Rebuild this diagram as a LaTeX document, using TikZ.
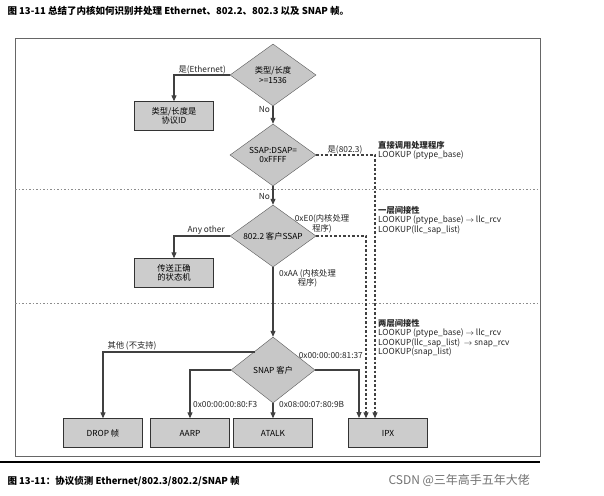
\documentclass[tikz,border=0pt]{standalone}
\usepackage{fontspec}
\setmainfont{Liberation Sans}
\newfontfamily\cjk{Noto Sans CJK SC}
\usetikzlibrary{shapes.geometric,arrows.meta}
\begin{document}
\begin{tikzpicture}[x=1pt,y=-1pt,font=\cjk\fontsize{8.3}{9.5}\selectfont,
  dia/.style={diamond,draw=gray!70!black,fill=black!22,aspect=1.4,inner sep=0pt,minimum width=86,minimum height=62,align=center},
  bx/.style={draw=gray!40!black,fill=black!20,minimum width=79,minimum height=29,align=center},
  ln/.style={draw=black!75,line width=1.1pt,-{Triangle[length=6pt,width=5pt]}},
  dl/.style={draw=black!75,line width=1.1pt,dash pattern=on 2.5pt off 2pt,-{Triangle[length=6pt,width=5pt]}},
  sep/.style={draw=black!45,line width=0.8pt,dash pattern=on 1.5pt off 2pt},
  lbl/.style={inner sep=1pt,align=left,text=black!85}]
\useasboundingbox (0,0) rectangle (604,495);
\fill[white] (0,0) rectangle (604,495);
\node[anchor=west,font=\cjk\bfseries\fontsize{9.5}{11}\selectfont] (title) at (4,11) {图 13-11 总结了内核如何识别并处理 Ethernet、802.2、802.3 以及 SNAP 帧。};
\draw[black!60,line width=0.6pt] (15,38) rectangle (540,456);
\draw[black,line width=1.6pt] (0,462) -- (540,462);
\node[anchor=west,font=\cjk\bfseries\fontsize{9.5}{11}\selectfont] (cap) at (4,481) {图 13-11：协议侦测 Ethernet/802.3/802.2/SNAP 帧};
\node[anchor=west,text=black!55,font=\cjk\fontsize{12}{14}\selectfont] (wm) at (385,480) {CSDN @三年高手五年大佬};
\draw[sep] (15,189) -- (540,189);
\draw[sep] (15,303) -- (540,303);
% nodes
\node[dia] (d1) at (273,75) {类型/长度\\>=1536};
\node[bx] (b1) at (174,116) {类型/长度是\\协议ID};
\node[dia] (d2) at (273,155) {SSAP:DSAP=\\0xFFFF};
\node[dia] (d3) at (273,236) {802.2 客户SSAP};
\node[bx] (b2) at (174,273) {传送正确\\的状态机};
\node[dia,minimum width=84,minimum height=66] (d4) at (273,370) {SNAP 客户};
\node[bx] (drop) at (103,433) {DROP 帧};
\node[bx] (aarp) at (190,433) {AARP};
\node[bx] (atalk) at (273,433) {ATALK};
\node[bx] (ipx) at (388,433) {IPX};
% connectors
\draw[ln] (d1.west) -| (b1.north);
\node[lbl,anchor=south east] at (227,75) {是(Ethernet)};
\draw[ln] (d1.south) -- (d2.north);
\node[lbl,anchor=east] at (271,110) {No};
\draw[ln] (d2.south) -- (d3.north);
\node[lbl,anchor=east] at (271,197) {No};
\draw[ln] (d3.west) -| (b2.north);
\node[lbl,anchor=south east] at (226,236) {Any other};
\draw[ln] (d3.south) -- (d4.north);
\node[lbl,anchor=north west,align=center] at (278,268) {0xAA (内核处理\\程序)};
\coordinate (c1) at (375,155);
\coordinate (c2) at (366,236);
\draw[dl] (d2.east) -- (c1) -- (c1 |- ipx.north);
\node[lbl,anchor=south] at (345,155) {是(802.3)};
\draw[dl] (d3.east) -- (c2) -- (c2 |- ipx.north);
\node[lbl,anchor=south,align=center] at (322,234) {0xE0(内核处理\\程序)};
\coordinate (s1) at (255,352);
\draw[ln] (s1) -| (drop.north);
\node[lbl,anchor=south] at (132,351) {其他 (不支持)};
\draw[ln] (d4.west) -| (aarp.north);
\draw[ln] (d4.south) -- (atalk.north);
\draw[ln] (d4.east) -| (359,418);
\node[lbl,anchor=west] at (192,405) {0x00:00:00:80:F3};
\node[lbl,anchor=west] at (278,405) {0x08:00:07:80:9B};
\node[lbl,anchor=south east] at (364,360) {0x00:00:00:81:37};
% right texts
\node[lbl,anchor=north west] at (377,140) {\textbf{直接调用处理程序}\\LOOKUP (ptype\_base)};
\node[lbl,anchor=north west] at (377,205) {\textbf{一层间接性}\\LOOKUP (ptype\_base) $\rightarrow$ llc\_rcv\\LOOKUP(llc\_sap\_list)};
\node[lbl,anchor=north west] at (377,318) {\textbf{两层间接性}\\LOOKUP (ptype\_base) $\rightarrow$ llc\_rcv\\LOOKUP(llc\_sap\_list) \ $\rightarrow$ snap\_rcv\\LOOKUP(snap\_list)};
\end{tikzpicture}
\end{document}
